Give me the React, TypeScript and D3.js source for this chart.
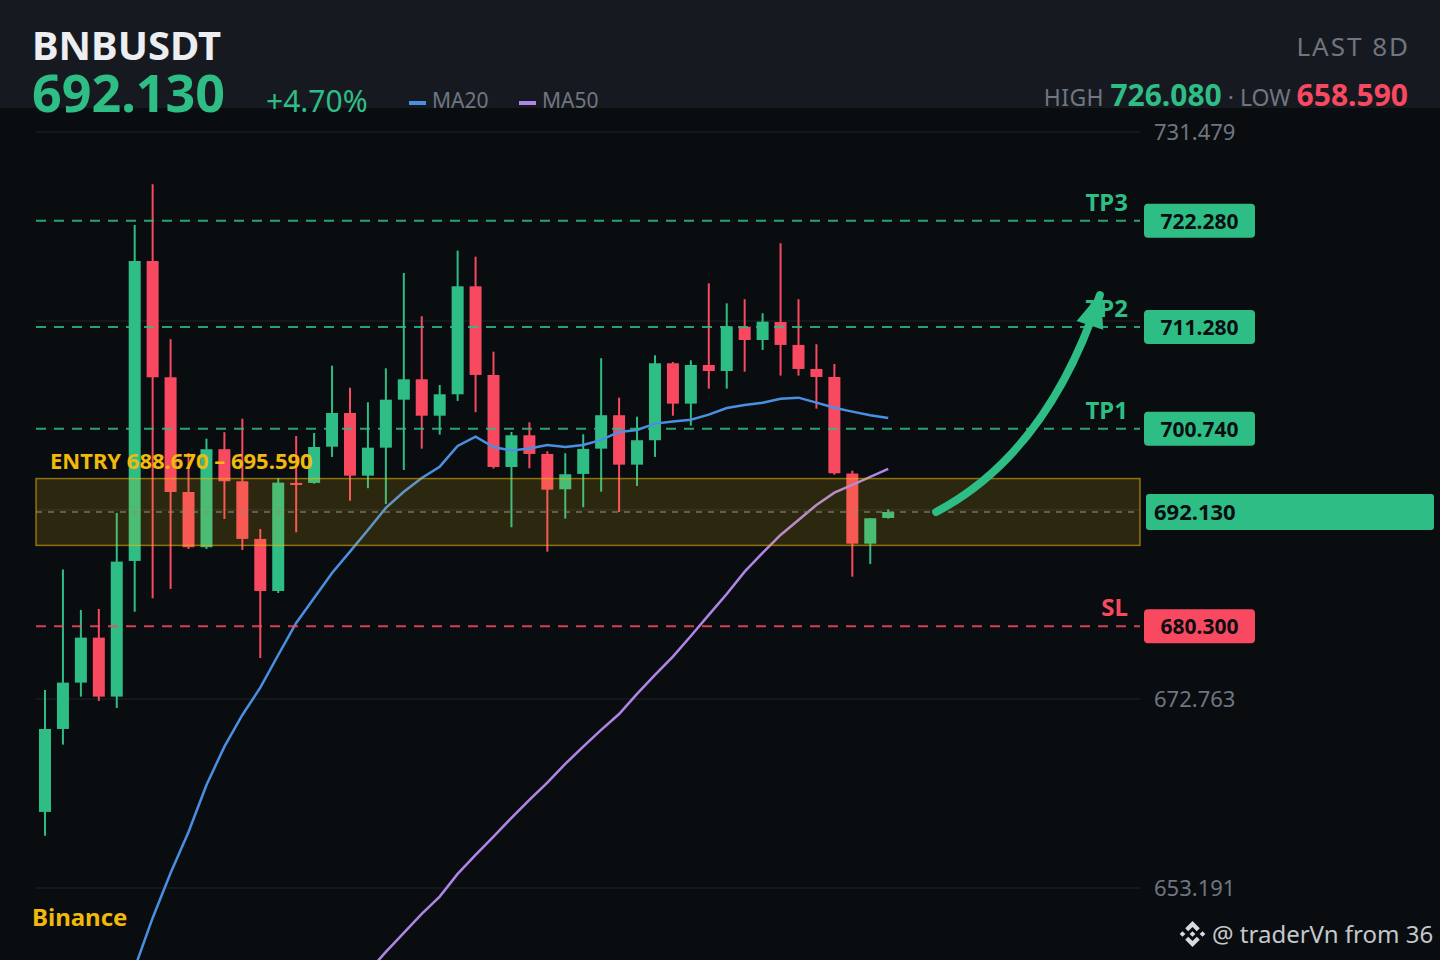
import React from "react";
import * as d3 from "d3";

// OHLC, one entry per candle
const opens = [661.07, 669.66, 674.46, 679.12, 673.01, 687.06, 718.12, 706.08, 694.2, 688.48, 698.63, 695.31, 689.34, 683.95, 695.14, 695.14, 698.89, 702.38, 695.89, 698.79, 703.76, 705.87, 702.1, 704.32, 715.5, 706.32, 696.79, 700.07, 698.14, 694.48, 696.07, 698.69, 702.15, 697.03, 699.56, 707.53, 703.35, 707.35, 706.73, 711.32, 709.94, 711.8, 709.43, 706.94, 706.11, 696.11, 688.85, 691.51];
const highs = [673.7, 686.18, 681.98, 682.09, 692.03, 721.85, 726.08, 710.02, 698.24, 699.72, 700.39, 701.79, 690.37, 695.65, 700.0, 700.31, 707.28, 705.0, 703.49, 707.01, 716.88, 712.4, 705.28, 719.19, 718.57, 708.73, 700.42, 701.42, 698.42, 698.21, 700.18, 708.05, 703.97, 702.0, 708.36, 707.66, 707.84, 715.81, 713.74, 714.16, 712.71, 719.96, 714.16, 709.5, 707.46, 696.41, 691.48, 692.41];
const lows = [658.59, 668.04, 673.01, 672.56, 671.84, 681.81, 683.2, 684.16, 688.3, 688.3, 691.41, 688.2, 677.01, 683.74, 690.03, 695.06, 697.83, 693.3, 694.59, 692.96, 696.48, 698.69, 700.14, 703.63, 702.46, 696.62, 690.55, 696.66, 688.02, 691.44, 692.62, 694.23, 692.13, 694.82, 697.83, 702.1, 701.07, 704.9, 704.9, 706.66, 708.91, 706.25, 706.25, 702.83, 695.99, 685.43, 686.75, 691.44];
const closes = [669.66, 674.46, 679.12, 673.01, 686.99, 718.12, 706.08, 694.2, 688.48, 698.63, 695.31, 689.34, 683.95, 695.17, 694.93, 698.86, 702.38, 695.89, 698.79, 703.76, 705.87, 702.1, 704.32, 715.5, 706.32, 696.79, 700.07, 698.14, 694.44, 696.04, 698.66, 702.15, 697.03, 699.56, 707.53, 703.35, 707.35, 706.73, 711.36, 709.94, 711.84, 709.43, 706.94, 706.11, 696.14, 688.85, 691.48, 692.13];

// moving averages only start part way through the candles
const ma20Start = 5;
const ma20 = [644.91, 650.09, 654.75, 658.99, 663.86, 667.83, 671.11, 673.94, 677.32, 680.64, 683.23, 685.82, 688.02, 690.27, 692.55, 694.23, 695.65, 696.82, 698.97, 699.93, 698.86, 698.5, 698.71, 699.07, 698.86, 699.07, 699.59, 700.42, 700.62, 701.28, 701.5, 701.69, 702.21, 702.9, 703.21, 703.45, 703.86, 703.97, 703.45, 702.93, 702.52, 702.15, 701.87];
const ma50Start = 18;
const ma50 = [644.5, 646.57, 648.54, 650.51, 652.3, 654.65, 656.61, 658.51, 660.45, 662.31, 664.1, 666.04, 667.83, 669.56, 671.21, 673.29, 675.25, 677.15, 679.29, 681.47, 683.64, 685.95, 687.89, 689.75, 691.3, 692.86, 694.13, 694.93, 695.76, 696.59];

const axisTicks = [731.479, 711.907, 692.335, 672.763, 653.191];

const targetNames = ["TP3", "TP2", "TP1", "SL"];
const targetPrices = [722.28, 711.28, 700.74, 680.3];

const lastPrice = 692.13;
const entryLow = 688.67;
const entryHigh = 695.59;
const highPrice = 726.08;
const lowPrice = 658.59;
const changePct = 4.7;

// projected move: start, control, end
const arrowSlots = [49.67, 55.9, 58.8];
const arrowPrices = [692.13, 698.24, 714.6];

const GREEN = "#2ebd85";
const RED = "#f84960";
const BLUE = "#4a90e2";
const PURPLE = "#b185e8";
const GOLD = "#f0b90b";
const MUTED = "#6f7680";
const FONT = "'Noto Sans', sans-serif";

const WIDTH = 1440;
const HEIGHT = 960;
const plotLeft = 36;
const plotRight = 1140;

const x = d3.scaleLinear().domain([0, 47]).range([45, 888.2]);
const y = d3.scaleLinear().domain([653.191, 731.479]).range([888, 132]);
const bodyWidth = 12;

const fmt = d3.format(".3f");

function maPath(values: number[], start: number) {
  return d3
    .line<number>()
    .x((_, i) => x(i + start))
    .y((d) => y(d))(values) as string;
}

function BinanceLogo({ cx, cy, s }: { cx: number; cy: number; s: number }) {
  // unit logo, about 2 wide
  const diamond = (mx: number, my: number, r: number) =>
    `M${mx - r},${my}L${mx},${my - r}L${mx + r},${my}L${mx},${my + r}Z`;
  const chevron = (dir: number) =>
    `M0,${-1 * dir}L0.56,${-0.44 * dir}L0.33,${-0.21 * dir}L0,${-0.54 * dir}L-0.33,${-0.21 * dir}L-0.56,${-0.44 * dir}Z`;
  return (
    <g transform={`translate(${cx},${cy}) scale(${s})`} fill="#d8dbdf">
      <path d={chevron(1)} />
      <path d={chevron(-1)} />
      <path d={diamond(0, 0, 0.22)} />
      <path d={diamond(-0.77, 0, 0.22)} />
      <path d={diamond(0.77, 0, 0.22)} />
    </g>
  );
}

function Pill({ price, color }: { price: number; color: string }) {
  return (
    <g>
      <rect x={1144} y={y(price) - 17} width={111} height={34} rx={4} fill={color} />
      <text x={1199.5} y={y(price) + 8} textAnchor="middle" fontSize={21} fontWeight={700} fill="#0b0e11">
        {fmt(price)}
      </text>
    </g>
  );
}

function Arrow() {
  const [x0, x1, x2] = arrowSlots.map((d) => x(d));
  const [y0, y1, y2] = arrowPrices.map((d) => y(d));
  const p = d3.path();
  p.moveTo(x0, y0);
  p.quadraticCurveTo(x1, y1, x2, y2);
  const len = Math.hypot(x2 - x1, y2 - y1);
  const ux = (x2 - x1) / len;
  const uy = (y2 - y1) / len;
  const bx = x2 - ux * 32;
  const by = y2 - uy * 32;
  const head = `M${x2 + ux * 3},${y2 + uy * 3}L${bx - uy * 14},${by + ux * 14}L${bx + uy * 14},${by - ux * 14}Z`;
  return (
    <g>
      <path d={p.toString()} fill="none" stroke={GREEN} strokeWidth={8} strokeLinecap="round" />
      <path d={head} fill={GREEN} />
    </g>
  );
}

export default function App() {
  return (
    <svg
      width={WIDTH}
      height={HEIGHT}
      viewBox={`0 0 ${WIDTH} ${HEIGHT}`}
      style={{ position: "absolute", left: 0, top: 0, display: "block", fontFamily: FONT }}
    >
      <rect width={WIDTH} height={HEIGHT} fill="#0a0d10" />
      <rect width={WIDTH} height={108} fill="#161a20" />

      {/* grid and right axis labels */}
      {axisTicks.map((t) => (
        <g key={t}>
          <line x1={plotLeft} x2={plotRight} y1={y(t)} y2={y(t)} stroke="#191d22" strokeWidth={1.5} />
          <text x={1154} y={y(t) + 8} fontSize={22} fill={MUTED}>
            {fmt(t)}
          </text>
        </g>
      ))}

      {/* candles */}
      {opens.map((o, i) => {
        const c = closes[i];
        const up = c >= o;
        const color = up ? GREEN : RED;
        const top = y(Math.max(o, c));
        const h = Math.max(Math.abs(y(o) - y(c)), 2);
        return (
          <g key={i}>
            <line x1={x(i)} x2={x(i)} y1={y(highs[i])} y2={y(lows[i])} stroke={color} strokeWidth={2} />
            <rect
              x={x(i) - bodyWidth / 2}
              y={top}
              width={bodyWidth}
              height={h}
              fill={color}
            />
          </g>
        );
      })}

      {/* moving averages */}
      <path d={maPath(ma20, ma20Start)} fill="none" stroke={BLUE} strokeWidth={2.5} />
      <path d={maPath(ma50, ma50Start)} fill="none" stroke={PURPLE} strokeWidth={2.5} />

      {/* entry zone sits on top of the candles */}
      <rect
        x={plotLeft}
        y={y(entryHigh)}
        width={plotRight - plotLeft}
        height={y(entryLow) - y(entryHigh)}
        fill={GOLD}
        fillOpacity={0.15}
        stroke={GOLD}
        strokeOpacity={0.55}
        strokeWidth={1.5}
      />
      <line
        x1={plotLeft}
        x2={plotRight}
        y1={y(lastPrice)}
        y2={y(lastPrice)}
        stroke="#8a8a86"
        strokeOpacity={0.75}
        strokeWidth={1.5}
        strokeDasharray="6 6"
      />

      {/* target levels */}
      {targetNames.map((name, i) => {
        const color = name === "SL" ? RED : GREEN;
        const py = y(targetPrices[i]);
        return (
          <g key={name}>
            <line
              x1={plotLeft}
              x2={plotRight}
              y1={py}
              y2={py}
              stroke={color}
              strokeOpacity={0.85}
              strokeWidth={2}
              strokeDasharray="10 8"
            />
            <text x={1128} y={py - 10} textAnchor="end" fontSize={24} fontWeight={700} fill={color}>
              {name}
            </text>
            <Pill price={targetPrices[i]} color={color} />
          </g>
        );
      })}

      <text x={50} y={y(entryHigh) - 10} fontSize={22} fontWeight={700} fill={GOLD}>
        {`ENTRY ${fmt(entryLow)} – ${fmt(entryHigh)}`}
      </text>

      <Arrow />

      {/* last price tag */}
      <rect x={1146} y={494} width={288} height={36} rx={3} fill={GREEN} />
      <text x={1154} y={520} fontSize={22} fontWeight={700} fill="#0b0e11">
        {fmt(lastPrice)}
      </text>

      {/* header */}
      <text x={32} y={60} fontSize={40} fontWeight={700} fill="#eceef2">
        BNBUSDT
      </text>
      <text x={32} y={112} fontSize={52} fontWeight={700} fill={GREEN}>
        {fmt(lastPrice)}
      </text>
      <text x={266} y={112} fontSize={30} fill={GREEN}>
        {`+${changePct.toFixed(2)}%`}
      </text>

      <rect x={409} y={101} width={17} height={4} fill={BLUE} />
      <text x={432} y={108} fontSize={21} fill={MUTED}>
        MA20
      </text>
      <rect x={519} y={101} width={17} height={4} fill={PURPLE} />
      <text x={542} y={108} fontSize={21} fill={MUTED}>
        MA50
      </text>

      <text x={1410} y={56} textAnchor="end" fontSize={26} letterSpacing={2} fill={MUTED}>
        LAST 8D
      </text>
      <text x={1408} y={106} textAnchor="end" fontSize={23} fill={MUTED}>
        <tspan letterSpacing={0.4}>{"HIGH "}</tspan>
        <tspan fontSize={30} fontWeight={700} fill={GREEN}>
          {fmt(highPrice)}
        </tspan>
        <tspan>{" · LOW "}</tspan>
        <tspan fontSize={30} fontWeight={700} fill={RED}>
          {fmt(lowPrice)}
        </tspan>
      </text>

      {/* footer */}
      <text x={32} y={926} fontSize={24} fontWeight={700} fill={GOLD}>
        Binance
      </text>
      <BinanceLogo cx={1192.5} cy={934} s={13} />
      <text x={1212} y={943} fontSize={24} fill="#c4c7cc">
        @ traderVn from 36
      </text>
    </svg>
  );
}
